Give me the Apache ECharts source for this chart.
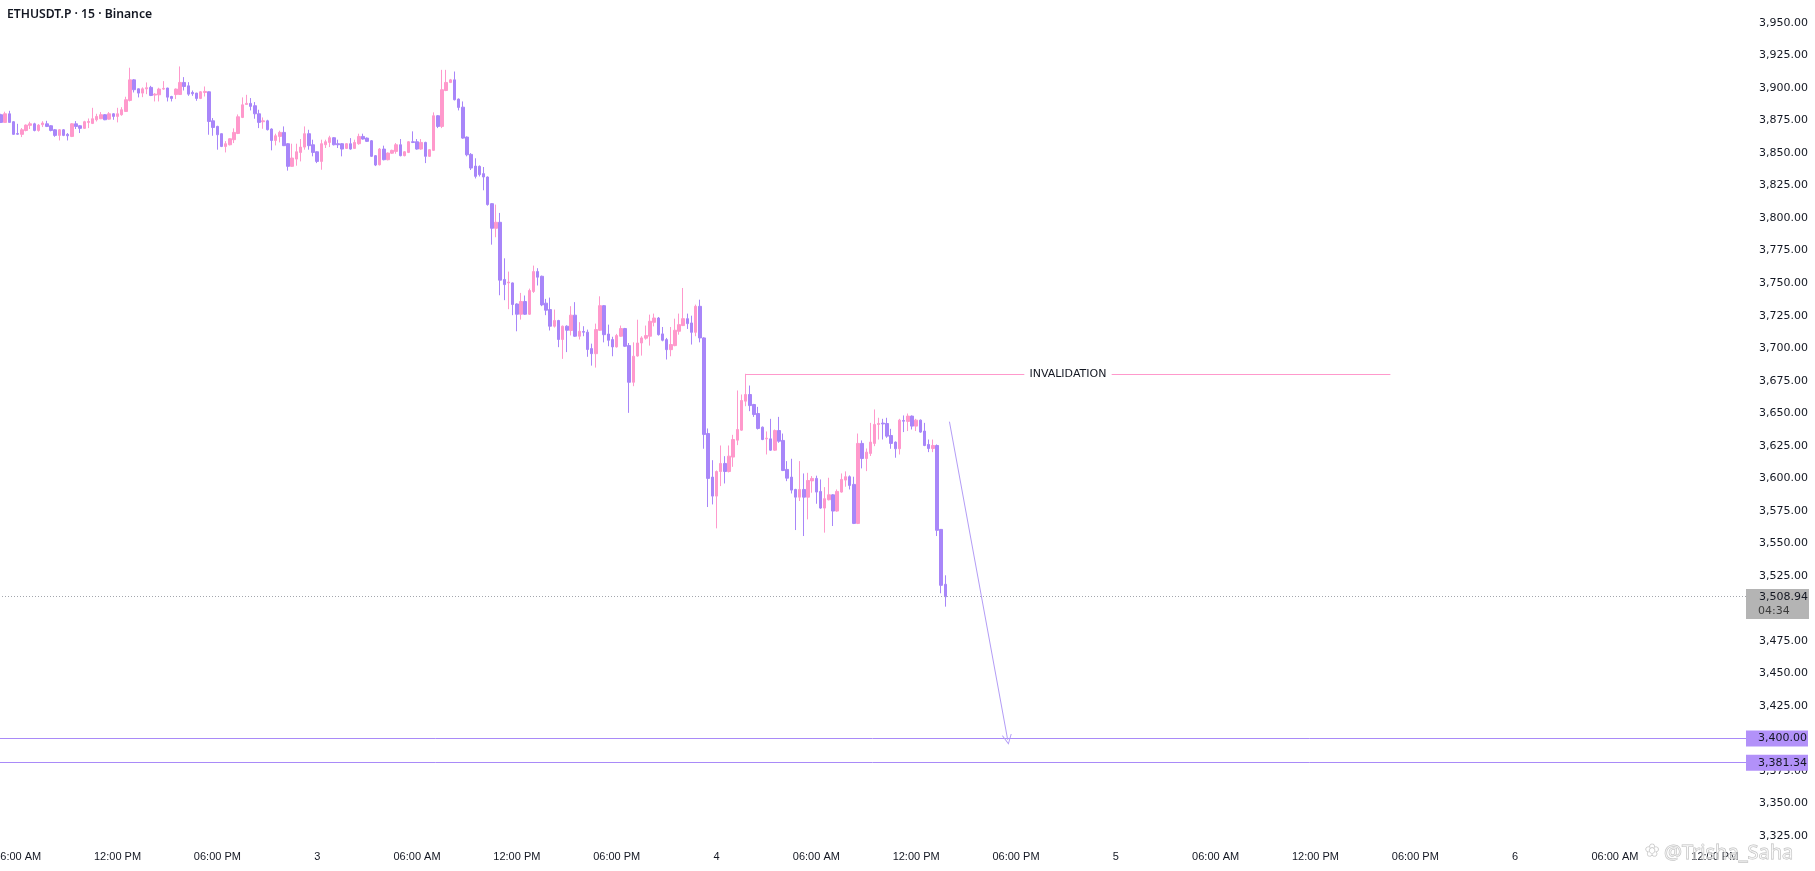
<!DOCTYPE html>
<html><head><meta charset="utf-8">
<script src="https://cdn.jsdelivr.net/npm/echarts@6/dist/echarts.min.js"></script>
<style>html,body{margin:0;padding:0;background:#fff;}#c{width:1815px;height:871px;}</style>
</head><body><div id="c"></div>
<script>
// ---- DATA ----
const chartTitle = 'ETHUSDT.P · 15 · Binance';
const startDay = 2, startHour = 5, slotCount = 420; // 15-minute slots, first slot = day 2 05:00
const opens = [
3879.5,3873.6,3880.2,3874.1,3865,3864.4,3867.4,3871.3,3872.5,3867.4,3871.8,3872.5,3871,3867.9,3863.6,3867.9,3864.4,3862.8,3872.5,3871,
3869,3873.6,3872.8,3875.6,3876.4,3879.5,3876.1,3880.2,3878.2,3879.5,3882,3890.5,3906.3,3899.4,3896.1,3899.4,3900.5,3894.6,3894.8,3899.2,
3900,3893.5,3895,3895,3904.3,3901.7,3896.6,3896.1,3892,3896.6,3897.1,3874.8,3870.5,3864.9,3855.1,3856.4,3860.3,3865.1,3877.4,3887.4,
3888.2,3886.4,3880.2,3874.1,3874.8,3868.5,3859.7,3862.8,3865.9,3857.2,3839.8,3845.4,3850.5,3854.6,3864.9,3856.4,3851,3843.6,3856.4,3858.2,
3861.8,3857.2,3857.2,3853.6,3857.2,3853.6,3857.2,3862.8,3861.5,3859.5,3848,3841,3853.1,3844.9,3849.9,3851.3,3856.4,3848,3850.5,3858.7,
3858.7,3853.1,3858.2,3847.5,3852.1,3878.7,3870.5,3898.1,3904.3,3906.3,3891.5,3885.3,3862.3,3849,3840,3839.8,3834.2,3831.6,3811.1,3792.2,
3796.8,3752.8,3750.2,3750.2,3734,3726.1,3735.9,3726.1,3743.6,3758.9,3755.3,3734.6,3729.7,3716.9,3721.3,3706.7,3716.9,3713.6,3725.4,3709.2,
3712.8,3712.3,3699.7,3695.8,3713.8,3732.7,3710.9,3706.6,3701,3709.2,3715.1,3702,3673.8,3694,3704,3707.7,3709.2,3719.9,3723.2,3711,
3706.6,3698.9,3702,3713,3717.4,3722.7,3719.4,3712.2,3732.2,3707.9,3634.4,3600.9,3586.3,3605.2,3611.4,3605.2,3616.3,3629.3,3637,3659.3,
3664.4,3656.7,3649.8,3639.3,3630.3,3630.3,3621.6,3636.7,3629.1,3606.8,3600.9,3591.4,3585.5,3591.4,3585.5,3598,3599.9,3589.9,3577.1,3583.5,
3587.3,3574.8,3589.4,3598.6,3601.2,3595.3,3565.3,3626.8,3615.2,3619.1,3626.8,3641.4,3642.4,3642.1,3632.9,3627.8,3622.7,3644.4,3643.7,3647.8,
3640.1,3644.7,3636.3,3626,3622.9,3625.2,3560.7,3518.5
];
const closes = [
3873.6,3880.2,3873.6,3864.4,3864.5,3867.9,3871.5,3872.5,3867.4,3871.5,3873.1,3870.5,3867.4,3863.6,3867.9,3863.6,3863.3,3872.5,3870.5,3869,
3874.1,3874.3,3876.4,3878.2,3879.5,3875.6,3880.2,3878.2,3880.2,3883.3,3891,3906.3,3898.7,3896.1,3899.4,3900.2,3894.3,3895.3,3899.2,3899.7,
3893,3892,3899.2,3904.3,3901.2,3895.3,3895.6,3892,3897.1,3897.4,3874.3,3869.7,3864.1,3855.1,3857.2,3861,3865.9,3877.9,3887.1,3888.2,
3885.9,3880.2,3873.6,3874.8,3868,3859.7,3863.3,3865.9,3855.7,3839.8,3846.2,3851,3854.6,3864.9,3855.7,3850.5,3843.6,3857.2,3858.7,3861.8,
3856.4,3856.4,3853.1,3857.2,3853.1,3858.2,3862.8,3860.8,3859,3847.5,3840.8,3853.1,3844.9,3850,3852.1,3856.4,3848,3851,3858.7,3858.2,
3853.1,3858.2,3847.5,3852.6,3878.7,3870.5,3898.7,3904.3,3906.3,3891,3885.1,3861.5,3848.7,3838.5,3832.1,3833.4,3831.6,3810.4,3792.2,3796.8,
3752.3,3748.9,3750.8,3733.6,3726.1,3735.9,3726.1,3744.3,3758.9,3754.6,3733.3,3729.2,3716.9,3721.3,3706.7,3716.9,3713.8,3725.4,3709.2,3713,
3712.3,3699,3695.8,3714.3,3732.7,3710.4,3706.1,3701,3709.7,3715.1,3701.5,3673.8,3693.8,3704,3707.9,3709.7,3720.7,3723.2,3710.4,3706.1,
3698.9,3702.8,3713.8,3718.1,3722.7,3718.9,3712.2,3732.2,3707.9,3633.7,3599.9,3586.3,3605.2,3611.4,3605.2,3617,3629.8,3637.5,3659.8,3664.4,
3655.9,3649,3638.3,3629.8,3630.8,3621.6,3636.7,3628.5,3606,3600.1,3590.9,3585.5,3591.4,3585.5,3598.3,3599.9,3589.4,3577.1,3584.3,3587.3,
3574.8,3589.9,3599.1,3601.2,3594.5,3565.3,3626.8,3615.2,3620.1,3627.8,3641.4,3642.1,3641.8,3632.4,3626.8,3622.7,3644.7,3643.9,3647.8,3640.1,
3644.7,3635.5,3625.2,3622.9,3625.2,3560,3517.7,3508.94
];
const lows = [
3873.1,3873.6,3873.6,3864,3864,3862.3,3866.7,3868.5,3866.7,3866.5,3870,3870,3866.7,3862.5,3859.7,3863,3859.7,3862.3,3868.5,3865.4,
3868.5,3869.2,3872.3,3874.3,3876.1,3875.3,3875.8,3875.6,3873.6,3878.7,3881.8,3889.7,3896.6,3892.8,3893,3895.3,3893.8,3889.7,3889.7,3898.7,
3889.7,3889.7,3891.5,3894.8,3898.1,3894,3894,3890.2,3891.5,3893.5,3864.1,3863.3,3852.6,3854.6,3850.5,3855.9,3857.7,3864.6,3876.9,3887,
3882.8,3876.4,3869.2,3868.7,3867.4,3852.1,3855.9,3858.2,3855.4,3836.5,3839.5,3840.3,3843.6,3852.6,3852.6,3847.5,3842.3,3837.2,3853.9,3854.6,
3855.9,3853.9,3847.5,3853.1,3852.6,3853.1,3856.4,3860.3,3858.5,3847,3840,3840.5,3844.4,3844.4,3849.4,3849.5,3847.5,3847.5,3850,3857.7,
3852.6,3852.6,3842.3,3847,3851.6,3869.2,3869.2,3897.6,3903.8,3890.5,3882.8,3861,3847.5,3837,3830.5,3832,3821.4,3809.6,3779.6,3785.3,
3740.7,3736.9,3730,3725.4,3713,3722,3725.6,3725.6,3742.5,3748.2,3732.3,3725.4,3713.6,3715.9,3700.8,3691.8,3697,3709.8,3708.7,3706.7,
3709.2,3693.4,3686.6,3685.1,3713.3,3704.5,3701.5,3693.8,3700.5,3708.7,3701,3650.3,3670.8,3693.5,3694.3,3706.6,3702,3716.8,3709.7,3705.3,
3691.3,3693.8,3701.5,3710.4,3717,3714.8,3702.8,3709.2,3704.5,3622.7,3577.9,3579.9,3561.5,3594,3596,3604.5,3608.8,3625.5,3636.5,3655.4,
3651.6,3647.2,3637.5,3629.3,3618.3,3621.1,3621,3627.3,3605.5,3597.8,3588.3,3560.2,3582.5,3555.6,3568.4,3588.9,3580.4,3576.6,3558.2,3583,
3563.3,3574.3,3589,3593.5,3591.4,3564.8,3564.8,3607.6,3605.5,3617.1,3624.7,3629.8,3629.8,3631.1,3622.7,3615.8,3618.3,3635.5,3636.3,3637.5,
3636.3,3635,3624.7,3620.1,3620.1,3555.6,3511.6,3501.3
];
const highs = [
3880.2,3881.8,3882.5,3874.5,3872.5,3869.2,3872,3874.1,3873.3,3872.3,3874.5,3874.8,3871.5,3868.5,3868.5,3868.5,3865.4,3873,3874.6,3871.5,
3874.8,3876.6,3884.8,3880.2,3881.5,3880,3881.5,3880.7,3884.8,3885.3,3893.3,3915.6,3906.9,3899.7,3900.5,3904.3,3901.7,3896.1,3900.2,3905.3,
3900.2,3894,3899.7,3916.6,3908.4,3904.5,3898.1,3896.3,3897.6,3901.2,3897.4,3876.9,3871,3865.1,3859.2,3861.5,3869,3879.7,3892.8,3894.8,
3892.3,3889.2,3883.3,3877.4,3875.6,3869,3864.9,3867.2,3870.5,3857.7,3857.2,3857.2,3860.8,3870.5,3867.9,3860.3,3851.3,3860.3,3860.3,3863.3,
3862.3,3860.3,3857.7,3857.7,3861.5,3860.3,3864.9,3864.9,3862,3860,3848.5,3853.9,3855.7,3850.5,3852.6,3857.7,3860.8,3851.5,3859.2,3866.7,
3860.8,3860.8,3858.7,3853.1,3881.3,3879.2,3914,3914,3907,3912.7,3892,3889.7,3862.8,3850,3846,3840.5,3839.3,3832,3811.5,3810.4,
3804,3769.1,3758.9,3750.5,3734.5,3742.5,3740.5,3745.8,3763.5,3761.5,3755.8,3737.9,3738.9,3729.7,3721.8,3717.4,3717.6,3732.3,3735.4,3720,
3716.9,3714.3,3703.5,3718.9,3739.9,3733.2,3718.1,3708.8,3711,3717.4,3715.6,3704,3704.5,3721.9,3709.2,3717.4,3725.8,3726.6,3724,3716.3,
3707.9,3716.3,3722.7,3726.6,3746.3,3726.6,3725,3733.5,3737.3,3708.4,3638.3,3613.9,3606,3625.2,3617,3625.2,3633.4,3667.5,3664.4,3664.8,
3671.3,3657.2,3654.9,3639.8,3636,3645.7,3637.5,3647.2,3634.4,3613.2,3615,3591.9,3613.2,3603.7,3604.2,3601.7,3602,3599.1,3593.2,3600.4,
3587.8,3591.4,3603.7,3605.3,3602.2,3601.2,3634.4,3629.1,3622.9,3642.6,3652.9,3646.5,3645.7,3646.5,3638,3628.3,3645.7,3648.3,3649.8,3648.3,
3645.7,3645.2,3642.6,3629.8,3629.8,3626,3561,3525.4
];
const yMin = 3325, yMax = 3950, yStep = 25;
const lastPrice = 3508.94;
const countdown = '04:34';
const supportLevels = [3400.00, 3381.34];
const invalidationPrice = 3680.3, invalidationStemLow = 3659;
const invalidationFrom = 179, invalidationGapFrom = 246, invalidationGapTo = 267, invalidationTo = 334, invalidationLabelAt = 256;
const arrowFrom = {i: 228, p: 3643.5}, arrowTo = {i: 242, p: 3399};
const watermark = '@Trisha_Saha';

// ---- BUILD ----
const PINK = '#ff99cc', PURPLE = '#a886f9', LEVEL = '#a98af8', LEVEL_BOX = '#b291f9';
const FONT = '"DejaVu Sans", Verdana, sans-serif';
const XFONT = '"Liberation Sans", Arial, sans-serif';
const categories = [];
for (let i = 0; i < slotCount; i++) {
  const m = startHour * 60 + i * 15;
  const d = startDay + Math.floor(m / 1440);
  const mm = m % 1440;
  const h = Math.floor(mm / 60), mi = mm % 60;
  categories.push(d + ' ' + String(h).padStart(2, '0') + ':' + String(mi).padStart(2, '0'));
}
const candles = opens.map((o, i) => [o, closes[i], lows[i], highs[i]]);
function fmtPrice(v) {
  const s = Number(v).toFixed(2).split('.');
  return s[0].replace(/\B(?=(\d{3})+(?!\d))/g, ',') + '.' + s[1];
}
function isMajor(v) {
  const t = v.split(' ')[1];
  return t === '00:00' || t === '06:00' || t === '12:00' || t === '18:00';
}
function fmtTime(v) {
  const [d, t] = v.split(' ');
  if (t === '00:00') return d;
  if (t === '06:00') return '06:00 AM';
  if (t === '12:00') return '12:00 PM';
  if (t === '18:00') return '06:00 PM';
  return '';
}
const c = (i) => categories[i];
const levelLines = supportLevels.map(p => ({
  yAxis: p,
  lineStyle: {color: LEVEL, width: 1, type: 'solid'},
  label: {show: true, position: 'end', distance: 0, formatter: fmtPrice(p), backgroundColor: LEVEL_BOX,
    color: '#131722', fontFamily: FONT, fontSize: 11, padding: [3, 1, 2, 12]}
}));
const pinkLine = {color: PINK, width: 1, type: 'solid'};

const chart = echarts.init(document.getElementById('c'), null, {renderer: 'canvas'});
const option = {
  animation: false,
  backgroundColor: '#ffffff',
  title: {text: chartTitle, left: 2, top: 4,
    textStyle: {fontFamily: '"Noto Sans", sans-serif', fontSize: 12.2, fontWeight: 600, color: '#131722'}},
  grid: {left: -1, right: 69, top: 23, bottom: 35, outerBoundsMode: 'none', containLabel: false},
  xAxis: {
    type: 'category', data: categories, boundaryGap: true,
    axisLine: {show: false}, axisTick: {show: false}, splitLine: {show: false},
    axisLabel: {interval: (idx, v) => isMajor(v), formatter: fmtTime, margin: 15,
      color: '#131722', fontFamily: XFONT, fontSize: 11, hideOverlap: false}
  },
  yAxis: {
    type: 'value', position: 'right', min: yMin, max: yMax, interval: yStep,
    axisLine: {show: false}, axisTick: {show: false}, splitLine: {show: false},
    axisLabel: {margin: 62, align: 'right', formatter: fmtPrice, color: '#131722', fontFamily: FONT, fontSize: 11}
  },
  series: [{
    type: 'candlestick',
    data: candles,
    barWidth: 3,
    itemStyle: {color: PINK, color0: PURPLE, borderColor: PINK, borderColor0: PURPLE, borderWidth: 1},
    markLine: {
      silent: true, symbol: ['none', 'none'], animation: false,
      data: [
        {yAxis: lastPrice, lineStyle: {color: '#a3a6ad', width: 1, type: [1, 2]}, label: {show: false}},
        ...levelLines,
        [{coord: [c(invalidationFrom), invalidationPrice], lineStyle: pinkLine, label: {show: false}},
         {coord: [c(invalidationGapFrom), invalidationPrice]}],
        [{coord: [c(invalidationGapTo), invalidationPrice], lineStyle: pinkLine, label: {show: false}},
         {coord: [c(invalidationTo), invalidationPrice]}],
        [{coord: [c(invalidationFrom), invalidationStemLow], lineStyle: pinkLine, label: {show: false}},
         {coord: [c(invalidationFrom), invalidationPrice]}],
        [{coord: [c(arrowFrom.i), arrowFrom.p], lineStyle: {color: '#b39cf6', width: 1, type: 'solid'}, label: {show: false}, symbol: 'none'},
         {coord: [c(arrowTo.i), arrowTo.p], symbol: 'path://M0,10 L5,0 L10,10 L9,10 L5,2 L1,10 Z', symbolSize: [10, 10]}]
      ]
    },
    markPoint: {
      silent: true, animation: false,
      symbol: 'circle', symbolSize: 0,
      itemStyle: {color: 'rgba(0,0,0,0)'},
      data: [{coord: [c(invalidationLabelAt), invalidationPrice],
        label: {show: true, position: 'inside', offset: [2, 0], formatter: 'INVALIDATION', color: '#131722', fontFamily: FONT, fontSize: 11}}]
    }
  }]
};
chart.setOption(option);
const yLast = chart.convertToPixel({yAxisIndex: 0}, lastPrice);
const axisX = 1746;
const wmStyle = {fill: 'rgba(255,255,255,0.5)', stroke: '#bdbdbd', lineWidth: 0.9, verticalAlign: 'middle', textVerticalAlign: 'middle', align: 'left', textAlign: 'left'};
chart.setOption({
  graphic: [
    {type: 'rect', z: 100, shape: {x: axisX, y: Math.round(yLast) - 8, width: 63, height: 30}, style: {fill: '#b4b4b4'}},
    {type: 'text', z: 101, x: 1808, y: yLast, style: {text: fmtPrice(lastPrice), align: 'right', textAlign: 'right', verticalAlign: 'middle', textVerticalAlign: 'middle', fill: '#131722', font: '11px ' + FONT}},
    {type: 'text', z: 101, x: 1758, y: yLast + 14, style: {text: countdown, align: 'left', textAlign: 'left', verticalAlign: 'middle', textVerticalAlign: 'middle', fill: '#3c3c3c', font: '11px ' + FONT}},
    {type: 'text', z: 101, x: 1645, y: 852, style: Object.assign({text: '✿', font: '17px "DejaVu Sans", sans-serif'}, wmStyle)},
    {type: 'text', z: 101, x: 1664, y: 853, style: Object.assign({text: watermark, font: '20px "Noto Sans", sans-serif'}, wmStyle)}
  ]
});
</script>
</body></html>
